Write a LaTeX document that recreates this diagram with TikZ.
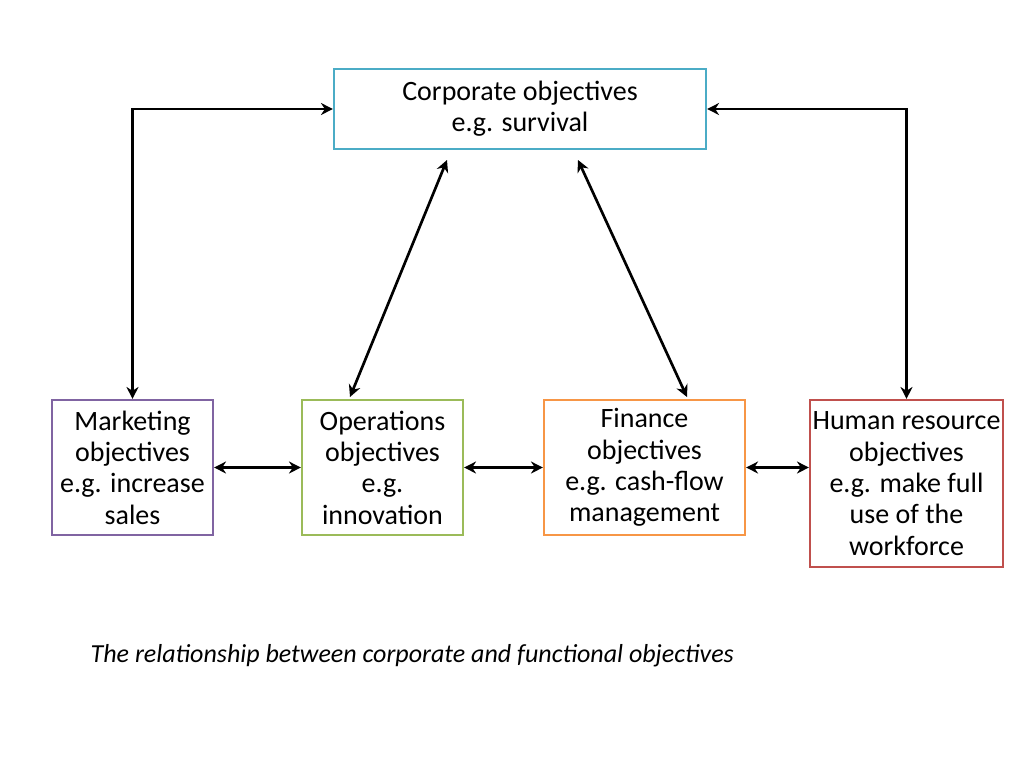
\documentclass[tikz,border=0pt]{standalone}
\usepackage{fontspec}
\setmainfont{Carlito}
\usetikzlibrary{arrows.meta}
\definecolor{corpcol}{RGB}{75,172,198}
\definecolor{markcol}{RGB}{128,100,162}
\definecolor{opercol}{RGB}{155,187,89}
\definecolor{fincol}{RGB}{247,150,70}
\definecolor{hrcol}{RGB}{192,80,77}
\begin{document}
\begin{tikzpicture}[x=0.75pt,y=-0.75pt,
    box/.style={draw=#1, line width=1.6pt, align=center, inner sep=0pt,
        font=\fontsize{21}{23.5}\selectfont},
    link/.style={<->, line width=2pt, >={Stealth[length=9pt,width=9pt]}}]
    \useasboundingbox (0,0) rectangle (1024,768);
    % boxes
    \node[box=corpcol, minimum width=279pt, minimum height=60pt] (corp) at (520,109) {Corporate objectives\\e.g. survival};
    \node[box=markcol, minimum width=120.75pt, minimum height=101.25pt] (mark) at (132.5,467.5) {Marketing\\objectives\\e.g. increase\\sales};
    \node[box=opercol, minimum width=120.75pt, minimum height=101.25pt] (oper) at (382.5,467.5) {Operations\\objectives\\e.g.\\innovation};
    \node[box=fincol, minimum width=150.75pt, minimum height=101.25pt] (fin) at (644.5,467.5) {Finance\\objectives\\e.g. cash-flow\\management};
    \node[box=hrcol, minimum width=144.75pt, minimum height=125.25pt] (hr) at (906.5,483.5) {Human resource\\objectives\\e.g. make full\\use of the\\workforce};
    % links
    \draw[link] (mark.north) |- (corp.west);
    \draw[link] (hr.north) |- (corp.east);
    \draw[link] (447,160) -- (350,397);
    \draw[link] (578,160) -- (687,397);
    \draw[link] (mark.east) -- (oper.west);
    \draw[link] (oper.east) -- (fin.west);
    \draw[link] (fin.east) -- (fin.east -| hr.west);
    % caption
    \node[anchor=west, font=\fontsize{19.5}{22}\selectfont\itshape] (cap) at (86,656) {The relationship between corporate and functional objectives};
\end{tikzpicture}
\end{document}
